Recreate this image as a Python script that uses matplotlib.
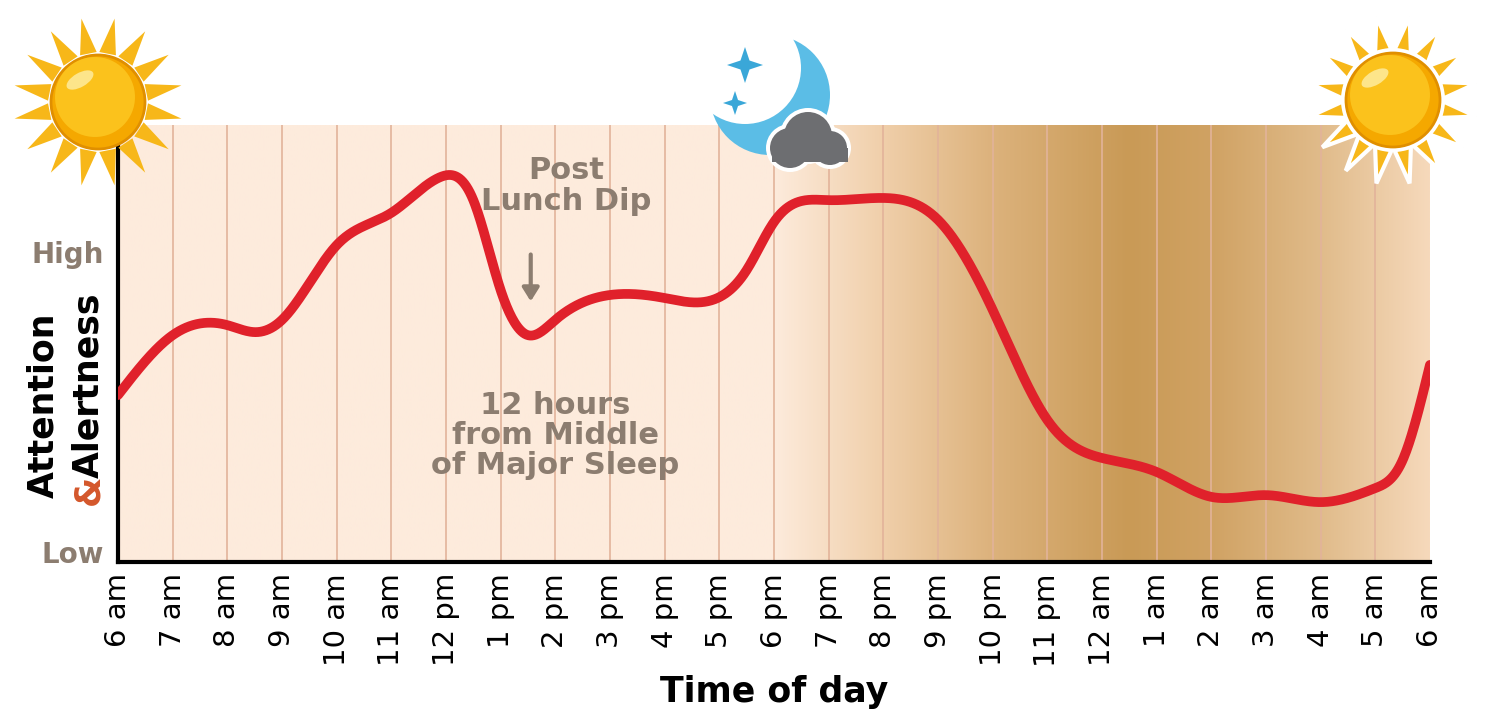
import matplotlib.pyplot as plt
import numpy as np
from matplotlib.patches import Circle, Polygon, Ellipse
from matplotlib.colors import to_rgb

# hours after 6 am and alertness (0 = Low axis, 100 = top)
hours = [0, 1, 2, 2.5, 3, 4, 5, 5.9, 6.5, 7, 7.5, 8, 9, 10, 11, 11.5, 12, 13, 14,
         15, 16, 17, 18, 19, 20, 21, 22, 23, 23.5, 24]
alert = [38.2, 51.9, 54.2, 52.6, 55.4, 72.5, 79.9, 88.1, 82.8, 62.2, 51.9, 55.4,
         61.1, 60.4, 60.6, 66.8, 77.8, 82.8, 83.3, 78.3, 57.7, 32.5, 23.8, 20.6,
         14.9, 15.3, 13.7, 16.9, 23.3, 45.1]
tick_labels = ['6 am', '7 am', '8 am', '9 am', '10 am', '11 am', '12 pm', '1 pm',
               '2 pm', '3 pm', '4 pm', '5 pm', '6 pm', '7 pm', '8 pm', '9 pm',
               '10 pm', '11 pm', '12 am', '1 am', '2 am', '3 am', '4 am', '5 am', '6 am']
# background shade stops (hour, colour)
shade_h = [0, 12, 14, 16, 18.5, 20, 22, 24]
shade_c = ['#fdebdc', '#fdebdc', '#f0cfaa', '#dcb27c', '#c99a56', '#d0a263', '#e0bb8a', '#f6d9bb']


def spline(x, y, n=1500):
    # natural cubic spline
    x = np.asarray(x, float); y = np.asarray(y, float)
    m = len(x); h = np.diff(x)
    A = np.zeros((m, m)); r = np.zeros(m)
    A[0, 0] = A[-1, -1] = 1
    for i in range(1, m-1):
        A[i, i-1] = h[i-1]; A[i, i] = 2*(h[i-1]+h[i]); A[i, i+1] = h[i]
        r[i] = 6*((y[i+1]-y[i])/h[i] - (y[i]-y[i-1])/h[i-1])
    M = np.linalg.solve(A, r)
    xs = np.linspace(x[0], x[-1], n)
    k = np.clip(np.searchsorted(x, xs) - 1, 0, m-2)
    t0 = xs - x[k]; t1 = x[k+1] - xs; hk = h[k]
    ys = (M[k]*t1**3 + M[k+1]*t0**3)/(6*hk) + (y[k]/hk - M[k]*hk/6)*t1 + (y[k+1]/hk - M[k+1]*hk/6)*t0
    return xs, ys


fig = plt.figure(figsize=(14.9, 7.13), dpi=100)
ax = fig.add_axes([0.0792, 0.2118, 0.8805, 0.6129])
ax.set_xlim(0, 24)
ax.set_ylim(0, 100)

gx = np.linspace(0, 24, 600)
cols = np.array([to_rgb(c) for c in shade_c])
grad = np.stack([np.interp(gx, shade_h, cols[:, k]) for k in range(3)], axis=-1)
ax.imshow(grad[None, :, :], extent=[0, 24, 0, 100], aspect='auto', zorder=0)
for h in range(1, 24):
    ax.axvline(h, color='#e2b39a', lw=1.2, zorder=1)

sx, sy = spline(hours, alert)
ax.plot(sx, sy, color='#e0212b', lw=7, solid_capstyle='round', zorder=3)

for s in ['top', 'right']:
    ax.spines[s].set_visible(False)
ax.spines['left'].set_linewidth(3)
ax.spines['bottom'].set_linewidth(3)
ax.set_xticks(range(25))
ax.set_xticklabels(tick_labels, rotation=90, fontsize=21)
ax.tick_params(axis='x', length=0, pad=8)
ax.set_yticks([70.9, 2.3])
ax.set_yticklabels(['High', 'Low'], fontsize=20, color='#8c7d70', fontweight='bold')
ax.tick_params(axis='y', length=0, pad=10)
ax.set_xlabel('Time of day', fontsize=25, fontweight='bold', labelpad=6)

fig.text(43/1490, 1-405/713, 'Attention', rotation=90, fontsize=25, fontweight='bold',
         ha='center', va='center')
fig.text(88/1490, 1-478/713, 'Alertness', rotation=90, fontsize=25, fontweight='bold',
         ha='center', va='bottom')
fig.text(88/1490, 1-505/713, '&', rotation=90, fontsize=25, fontweight='bold',
         color='#d4572b', ha='center', va='bottom')

gc = '#8c7d70'
ax.text(8.2, 86, 'Post\nLunch Dip', ha='center', va='center', fontsize=22,
        fontweight='bold', color=gc, linespacing=1.1)
ax.annotate('', xy=(7.55, 59), xytext=(7.55, 71),
            arrowprops=dict(arrowstyle='-|>,head_width=0.5,head_length=0.8', lw=3, color=gc))
ax.text(8.0, 29, '12 hours\nfrom Middle\nof Major Sleep', ha='center', va='center',
        fontsize=22, fontweight='bold', color=gc, linespacing=1.05)

# icons in pixel coordinates
ov = fig.add_axes([0, 0, 1, 1], zorder=5)
ov.set_xlim(0, 1490); ov.set_ylim(713, 0); ov.axis('off')


def sun(cx, cy, outline):
    ang = np.linspace(0, 2*np.pi, 16, endpoint=False) + np.pi/16
    for a in ang:
        tip = (cx + 85*np.cos(a), cy + 85*np.sin(a))
        b1 = (cx + 50*np.cos(a-0.17), cy + 50*np.sin(a-0.17))
        b2 = (cx + 50*np.cos(a+0.17), cy + 50*np.sin(a+0.17))
        ov.add_patch(Polygon([tip, b1, b2], fc='#f7b719', ec='white' if outline else 'none',
                             lw=3 if outline else 0))
    if outline:
        ov.add_patch(Circle((cx, cy), 52, fc='white'))
    ov.add_patch(Circle((cx, cy), 47, fc='#f5a800', ec='#e08f00', lw=2))
    ov.add_patch(Circle((cx-3, cy-5), 40, fc='#fbc21c'))
    ov.add_patch(Ellipse((cx-18, cy-22), 30, 14, angle=-30, fc='#fde58a'))


sun(98, 102, False)
sun(1393, 100, True)

ov.add_patch(Circle((770, 95), 60, fc='#5bbde6'))
ov.add_patch(Circle((745, 68), 56, fc='white'))
for (x0, y0, r) in [(745, 65, 18), (735, 103, 12)]:
    ov.add_patch(Polygon([(x0, y0-r), (x0+r*0.25, y0-r*0.25), (x0+r, y0), (x0+r*0.25, y0+r*0.25),
                          (x0, y0+r), (x0-r*0.25, y0+r*0.25), (x0-r, y0), (x0-r*0.25, y0-r*0.25)],
                         fc='#3aa7d8'))
for (x0, y0, r) in [(790, 148, 20), (808, 136, 24), (830, 148, 17)]:
    ov.add_patch(Circle((x0, y0), r+4, fc='white'))
for (x0, y0, r) in [(790, 148, 20), (808, 136, 24), (830, 148, 17)]:
    ov.add_patch(Circle((x0, y0), r, fc='#6d6e71'))
ov.add_patch(Polygon([(772, 148), (848, 148), (848, 162), (772, 162)], fc='#6d6e71'))

fig.savefig('out.png', dpi=100)
